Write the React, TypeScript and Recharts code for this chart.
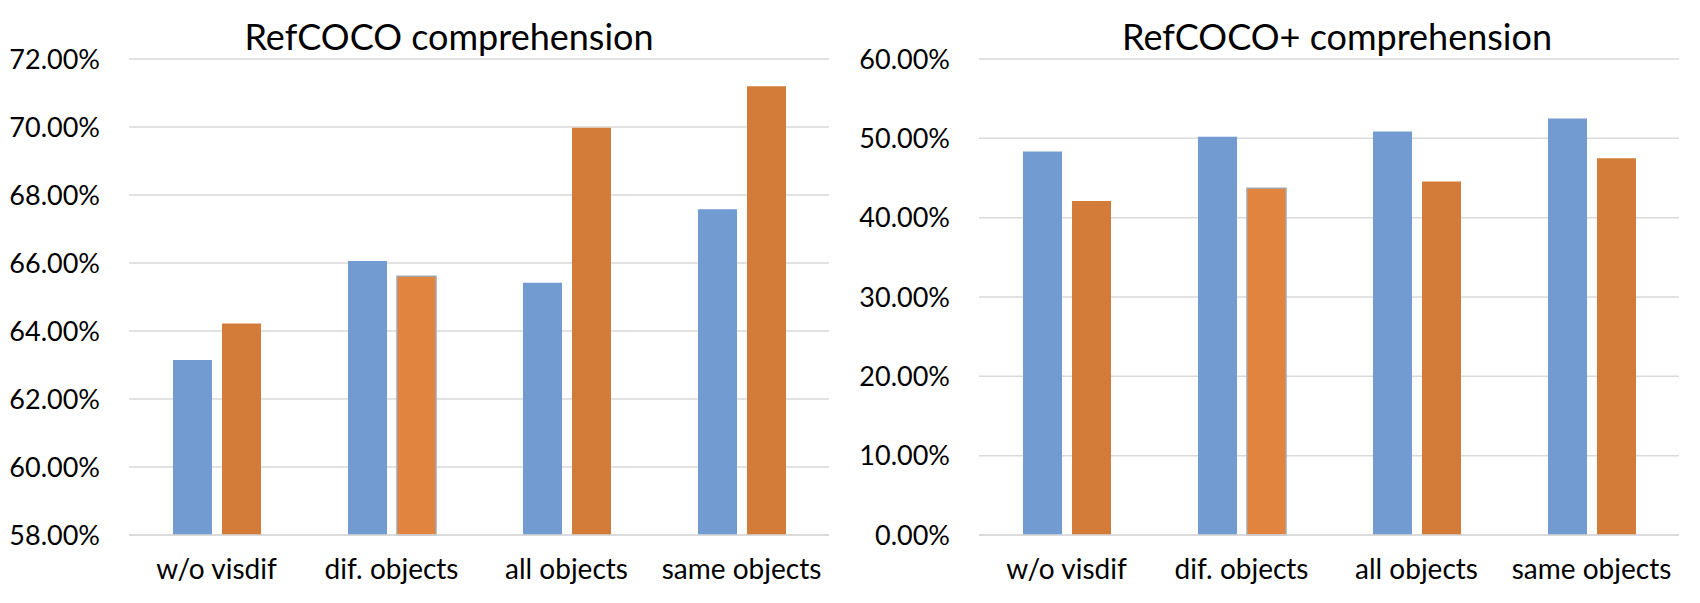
import React from 'react';
import { BarChart, Bar, XAxis, YAxis, CartesianGrid, Cell } from 'recharts';

const categories = ['w/o visdif', 'dif. objects', 'all objects', 'same objects'];

// RefCOCO comprehension accuracy (%)
const refcocoBlue = [63.15, 66.06, 65.42, 67.58];
const refcocoOrange = [64.22, 65.61, 69.98, 71.2];
const refcocoTicks = [58, 60, 62, 64, 66, 68, 70, 72];

// RefCOCO+ comprehension accuracy (%)
const refcocoPlusBlue = [48.35, 50.2, 50.85, 52.5];
const refcocoPlusOrange = [42.1, 43.7, 44.55, 47.5];
const refcocoPlusTicks = [0, 10, 20, 30, 40, 50, 60];

const BLUE = '#729BD2';
const ORANGE = '#D37C3A';
const ORANGE_SELECTED = '#E0843F';
const GRID = '#D9D9D9';
const FONT = 'Lato, "Open Sans", sans-serif';

const buildRows = (blue: number[], orange: number[]) =>
  categories.map((name, i) => ({ name, blue: blue[i], orange: orange[i] }));

interface PanelProps {
  title: string;
  titleCenter: number;
  blue: number[];
  orange: number[];
  ticks: number[];
}

const Panel: React.FC<PanelProps> = ({ title, titleCenter, blue, orange, ticks }) => {
  const data = buildRows(blue, orange);
  const domain: [number, number] = [ticks[0], ticks[ticks.length - 1]];

  return (
    <div style={{ position: 'relative', width: 850, height: 603 }}>
      <div
        style={{
          position: 'absolute',
          left: titleCenter - 300,
          width: 600,
          top: 14,
          textAlign: 'center',
          fontFamily: FONT,
          fontSize: 36,
          lineHeight: '44px',
          color: '#000',
        }}
      >
        {title}
      </div>
      <BarChart
        width={850}
        height={603}
        data={data}
        margin={{ top: 59, right: 21, left: 0, bottom: 0 }}
        barSize={39}
        barGap={10}
      >
        <CartesianGrid horizontal={true} vertical={false} stroke={GRID} strokeWidth={1.5} />
        <XAxis
          dataKey="name"
          height={68}
          axisLine={{ stroke: GRID, strokeWidth: 1.5 }}
          tickLine={false}
          tickSize={0}
          tickMargin={24}
          tick={{ fontSize: 28, fill: '#000', fontFamily: FONT }}
          interval={0}
        />
        <YAxis
          type="number"
          domain={domain}
          ticks={ticks}
          width={129}
          axisLine={false}
          tickLine={false}
          tickSize={0}
          tickMargin={29}
          tick={{ fontSize: 27, fill: '#000', fontFamily: FONT }}
          tickFormatter={(v: number) => `${v.toFixed(2)}%`}
        />
        <Bar dataKey="blue" fill={BLUE} isAnimationActive={false} />
        <Bar dataKey="orange" fill={ORANGE} isAnimationActive={false}>
          {data.map((_entry, index) => (
            <Cell
              key={`cell-${index}`}
              fill={index === 1 ? ORANGE_SELECTED : ORANGE}
              stroke={index === 1 ? '#A6A6A6' : 'none'}
              strokeWidth={index === 1 ? 1.5 : 0}
            />
          ))}
        </Bar>
      </BarChart>
    </div>
  );
};

export default function App() {
  return (
    <div
      style={{
        position: 'absolute',
        left: 0,
        top: 0,
        width: 1700,
        height: 603,
        background: '#fff',
        display: 'flex',
      }}
    >
      <Panel
        title="RefCOCO comprehension"
        titleCenter={449}
        blue={refcocoBlue}
        orange={refcocoOrange}
        ticks={refcocoTicks}
      />
      <Panel
        title="RefCOCO+ comprehension"
        titleCenter={487}
        blue={refcocoPlusBlue}
        orange={refcocoPlusOrange}
        ticks={refcocoPlusTicks}
      />
    </div>
  );
}
